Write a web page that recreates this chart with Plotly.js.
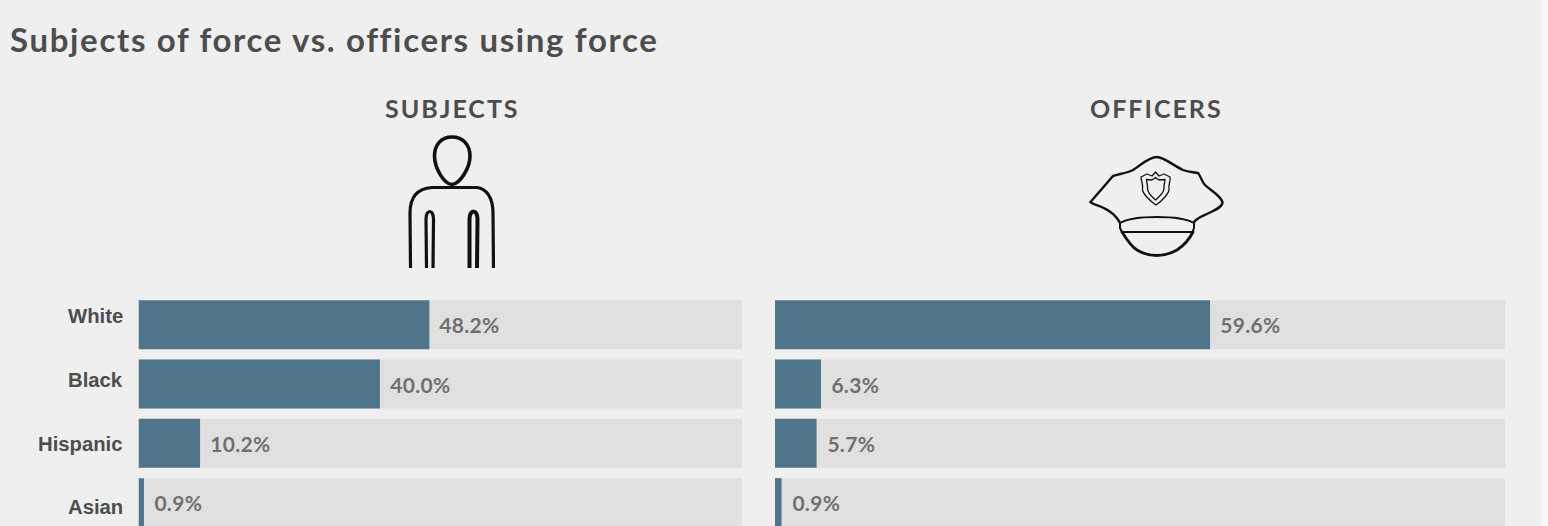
<!DOCTYPE html>
<html>
<head>
<meta charset="utf-8">
<script src="https://cdn.plot.ly/plotly-3.0.1.min.js"></script>
<style>
html,body{margin:0;padding:0;background:#efefef;overflow:hidden}
#chart{width:1548px;height:526px}
.gtitle{letter-spacing:1.65px}
.annotation[data-index="4"] text,.annotation[data-index="5"] text{letter-spacing:2px}
.annotation[data-index="6"] text,.annotation[data-index="7"] text,.annotation[data-index="8"] text,.annotation[data-index="9"] text,
.annotation[data-index="10"] text,.annotation[data-index="11"] text,.annotation[data-index="12"] text,.annotation[data-index="13"] text{letter-spacing:.3px}
</style>
</head>
<body>
<div id="chart"></div>
<script>
const categories = ["White", "Black", "Hispanic", "Asian"];
const subjects = [48.2, 40.0, 10.2, 0.9];
const officers = [59.6, 6.3, 5.7, 0.9];
const fullScale = [100, 100, 100, 100];
const titleText = "Subjects of force vs. officers using force";
const panelTitles = ["SUBJECTS", "OFFICERS"];

const W = 1548, H = 526;
const BAR = "#50758a", TRACK = "#e0e0e0", BG = "#efefef";
const TEXT = "#4d4d4d", VALUE = "#707070";

function svgUri(inner, w, h) {
  const s = '<svg xmlns="http://www.w3.org/2000/svg" width="' + w + '" height="' + h + '" viewBox="0 0 ' + w + ' ' + h + '">' + inner + '</svg>';
  return "data:image/svg+xml," + encodeURIComponent(s);
}
const personSvg = svgUri(
  '<g fill="none" stroke="#111" stroke-linecap="butt" stroke-linejoin="round">' +
  '<path stroke-width="3.6" d="M44 2 C33 2 26.500 10 26.500 21 C26.500 33 36 49 44 49.500 C52 49 62 33 62 21 C62 10 55 2 44 2 Z"/>' +
  '<path stroke-width="3.2" d="M2.500 133 L2 78 C2 62 10 53.500 24 52.500 L69 52.500 C78 53.500 85 62 85 78 L85.500 133"/>' +
  '<path stroke-width="3.200" d="M18.500 133 L18 84 C18 74 25.500 74 25.500 84 L25 133"/>' +
  '<path stroke-width="4" d="M61.500 133 L61.500 84 C61.500 74 69.500 74 69.500 84 L69 133"/>' +
  '</g>', 87, 134);
const capSvg = svgUri(
  '<g fill="none" stroke="#111" stroke-linejoin="round" stroke-linecap="round">' +
  '<path stroke-width="2.400" d="M1.500 59 L24 33 C30 31 38 30 44 27 C52 22 60 14 67.700 14 C75 14 85 23 94 27 C99 29 104 29 109 30 C112 33 112 38 116 42 C121 47 131 52 133.500 59 C134 64 126 67 120 70 C114 73 108 75 105 79"/>' +
  '<path stroke-width="2.400" d="M1.500 59 C4 62 12 62 20 68 C26 72 29 76 31 80"/>' +
  '<path stroke-width="2" d="M31 80 C45 72 91 72 105 80 L105 85 L103.500 89 L33 89 L31 85 Z"/>' +
  '<path stroke-width="2.800" d="M33 89 C38 97 43 104 48 107 C56 112 62 112.500 67.700 112.500 C74 112.500 81 111 88 107 C94 103 100 97 104 89"/>' +
  '<path stroke-width="1.300" d="M66.500 29 L70 33 L75 31 L81 34 C82 38 79 42 80 46 C80.500 50 73 58 67 62 C61 58 53 50 53.500 46 C54.500 42 52 38 52 34 L58 31 L63 33 Z"/>' +
  '<path stroke-width="1.300" d="M66.500 34.500 L70 37 L76 36.500 C76 40 74.500 42 75 45.500 C75 49 70 54 66.500 57 C63 54 58.500 49 58.500 45.500 C59 42 57.500 40 57.500 36.500 L63 37 Z"/>' +
  '</g>', 135, 116);

function rowAnnotations(values, xref, yref) {
  return values.map((v, i) => ({
    x: v, y: i, xref: xref, yref: yref, text: v.toFixed(1) + "%",
    xanchor: "left", yanchor: "middle", xshift: 9, yshift: 0, showarrow: false,
    font: {family: "Lato", size: 21, color: VALUE, weight: 700}
  }));
}
const labelShift = [8.5, 4, -0.5, -4.5];
const catAnnotations = categories.map((c, i) => ({
  x: 125 / W, xref: "paper", y: i, yref: "y", yshift: labelShift[i], text: c,
  xanchor: "right", yanchor: "middle", showarrow: false,
  font: {family: "Liberation Sans", size: 20.3, color: TEXT, weight: 700}
}));
const panelAnn = panelTitles.map((t, i) => ({
  x: [452.5, 1156][i] / W, y: 1 - 107.5 / H, xref: "paper", yref: "paper", text: t,
  xanchor: "center", yanchor: "middle", showarrow: false,
  font: {family: "Lato", size: 25, color: TEXT, weight: 700}
}));

const data = [
  {type: "bar", orientation: "h", y: categories, x: fullScale, xaxis: "x", yaxis: "y", marker: {color: TRACK}, hoverinfo: "skip"},
  {type: "bar", orientation: "h", y: categories, x: subjects, xaxis: "x", yaxis: "y", marker: {color: BAR}, name: "Subjects"},
  {type: "bar", orientation: "h", y: categories, x: fullScale, xaxis: "x2", yaxis: "y2", marker: {color: TRACK}, hoverinfo: "skip"},
  {type: "bar", orientation: "h", y: categories, x: officers, xaxis: "x2", yaxis: "y2", marker: {color: BAR}, name: "Officers"}
];

const yTop = 295, yBottom = H;
const pitch = 59.3;
const yr = [(yBottom - 324.7) / pitch, (yTop - 324.7) / pitch];
const yDomain = [0, 1 - yTop / H];
const hiddenX = {showgrid: false, zeroline: false, showticklabels: false, ticks: "", showline: false, range: [0, 100], fixedrange: true};
const hiddenY = {showgrid: false, zeroline: false, showticklabels: false, ticks: "", showline: false, type: "category", categoryorder: "array", categoryarray: categories, range: yr, domain: yDomain, fixedrange: true};

const layout = {
  width: W, height: H,
  margin: {l: 0, r: 0, t: 0, b: 0, pad: 0},
  paper_bgcolor: BG, plot_bgcolor: BG,
  showlegend: false,
  barmode: "overlay",
  bargap: 0.175,
  title: {text: titleText, x: 10 / W, xref: "paper", xanchor: "left", y: 1 - 40 / H, yref: "paper", yanchor: "middle",
    font: {family: "Lato", size: 33, color: TEXT, weight: 700}},
  xaxis: Object.assign({}, hiddenX, {domain: [138.5 / W, 742 / W]}),
  xaxis2: Object.assign({}, hiddenX, {domain: [775 / W, 1505 / W]}),
  yaxis: Object.assign({}, hiddenY),
  yaxis2: Object.assign({}, hiddenY, {anchor: "x2"}),
  annotations: [...catAnnotations, ...panelAnn, ...rowAnnotations(subjects, "x", "y"), ...rowAnnotations(officers, "x2", "y2")],
  shapes: [{type: "rect", xref: "paper", yref: "paper", x0: 1541 / W, x1: 1, y0: 0, y1: 1, fillcolor: "#f7f7f7", line: {width: 0}, layer: "above"}],
  images: [
    {source: personSvg, xref: "paper", yref: "paper", x: 408 / W, y: 1 - 135 / H, sizex: 87 / W, sizey: 134 / H, xanchor: "left", yanchor: "top", sizing: "stretch", layer: "above"},
    {source: capSvg, xref: "paper", yref: "paper", x: 1089 / W, y: 1 - 143 / H, sizex: 135 / W, sizey: 116 / H, xanchor: "left", yanchor: "top", sizing: "stretch", layer: "above"}
  ]
};
Plotly.newPlot("chart", data, layout, {displayModeBar: false, staticPlot: true});
</script>
</body>
</html>
